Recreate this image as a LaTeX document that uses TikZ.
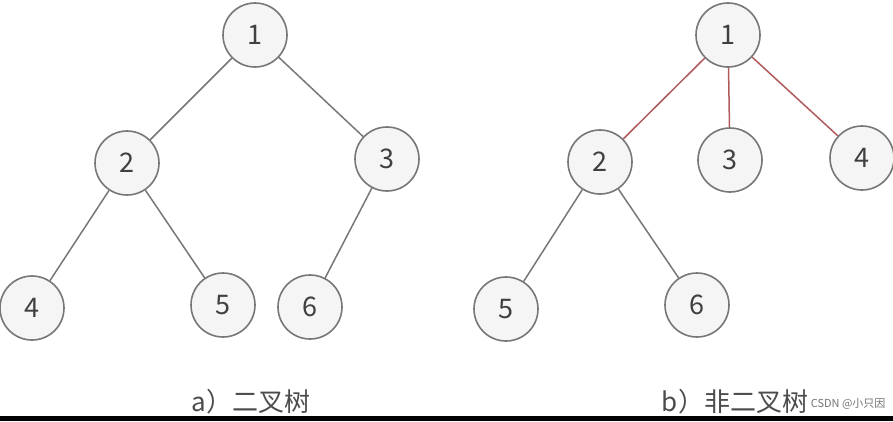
\documentclass[tikz,border=0pt]{standalone}
\usepackage{fontspec}
\setmainfont{Noto Sans CJK SC}
\usepackage{tikz}

\begin{document}
\begin{tikzpicture}[x=1pt,y=-1pt]
\useasboundingbox (0,0) rectangle (893,421);
\definecolor{edgegray}{HTML}{777777}
\definecolor{edgered}{HTML}{B05A5A}
\tikzstyle{vtx}=[circle, draw=edgegray, fill=black!4, line width=1.6pt,
                        inner sep=0pt, minimum size=64pt, font=\fontsize{27}{27}\selectfont, text=black!75]
\tikzstyle{edg}=[edgegray, line width=1.5pt]
\tikzstyle{lbl}=[font=\fontsize{26}{26}\selectfont, text=black!70]
% tree a
\node[vtx](a1) at (255,35){1};
\node[vtx](a2) at (127,163){2};
\node[vtx](a3) at (387,159){3};
\node[vtx](a4) at (32,308){4};
\node[vtx](a5) at (223,305){5};
\node[vtx](a6) at (310,307){6};
% tree b
\node[vtx](b1) at (728,35){1};
\node[vtx](b2) at (600,162){2};
\node[vtx](b3) at (730,160){3};
\node[vtx](b4) at (862,158){4};
\node[vtx](b5) at (506,309){5};
\node[vtx](b6) at (697,305){6};
\foreach \i/\j in {a1/a2,a1/a3,a2/a4,a2/a5,a3/a6,b2/b5,b2/b6}{\draw[edg] (\i) -- (\j);}
\foreach \i/\j in {b1/b2,b1/b3,b1/b4}{\draw[edg, edgered] (\i) -- (\j);}
\node[lbl](capa) at (251,402){a）二叉树};
\node[lbl](capb) at (735,402){b）非二叉树};
\node[font=\fontsize{11}{11}\selectfont, text=black!55, anchor=east](mark) at (889,404){CSDN @小只因};
\fill[black] (0,416) rectangle (893,421);
\end{tikzpicture}
\end{document}
